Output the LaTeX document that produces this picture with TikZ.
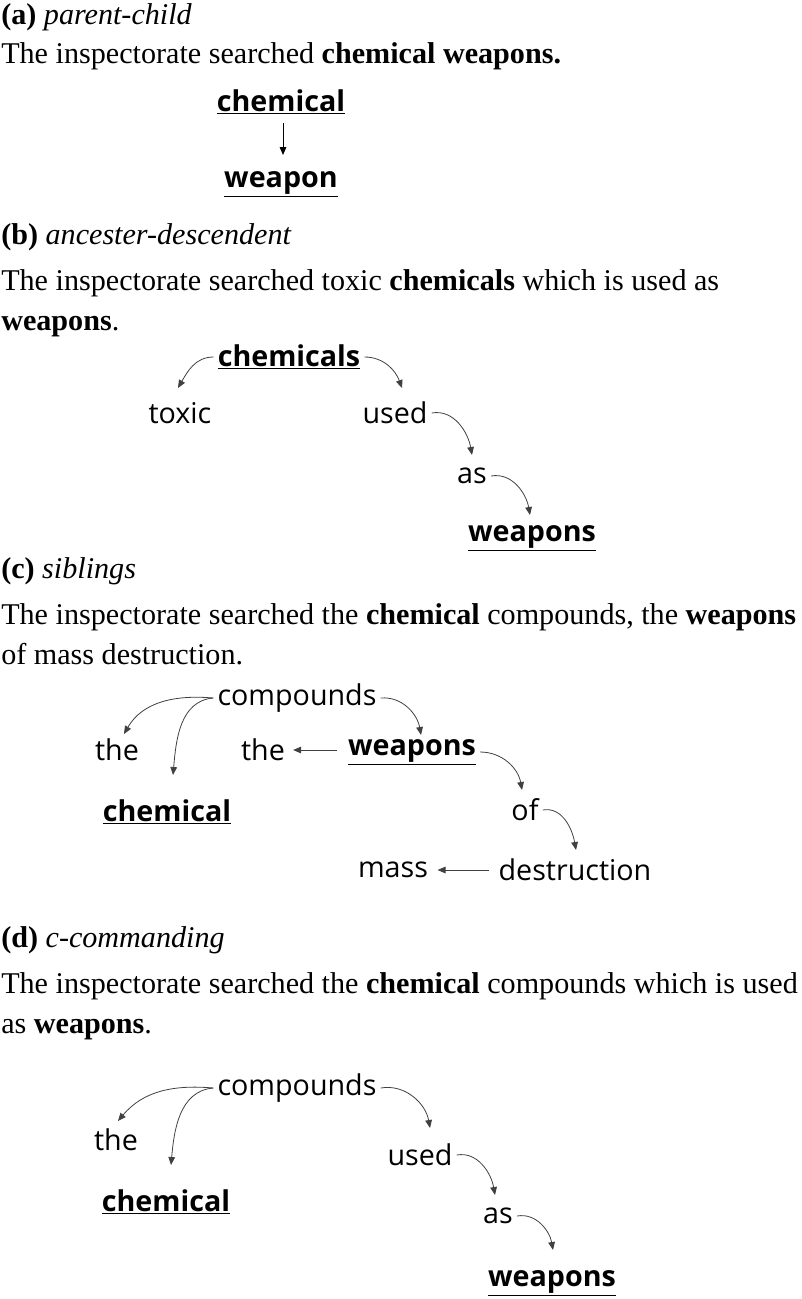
\documentclass[tikz,border=0pt]{standalone}
\usepackage{fontspec}
\setmainfont{Liberation Serif}
\newfontfamily\wordfont{Open Sans}
\usetikzlibrary{arrows.meta}
\begin{document}
\begin{tikzpicture}[x=0.75pt,y=-0.75pt,
  txt/.style={anchor=base west,inner sep=0pt,font=\fontsize{22.6}{26}\selectfont},
  wd/.style={inner sep=3pt,font=\wordfont\fontsize{21.5}{25}\selectfont},
  bw/.style={wd,font=\wordfont\bfseries\fontsize{21.5}{25}\selectfont},
  arr/.style={-{Triangle[length=6pt,width=5pt]},draw=black!75,line width=0.6pt}]
\useasboundingbox (0,0) rectangle (801,1299);
% (a)
\node[txt] (ha) at (1,24) {\textbf{(a)} \textit{parent-child}};
\node[txt] (sa) at (1,63) {The inspectorate searched \textbf{chemical weapons.}};
\node[bw] (a1) at (281,102) {\underline{chemical}};
\node[bw] (a2) at (281,184) {\underline{weapon}};
\draw[arr,draw=black] (283,123) -- (283,155);
% (b)
\node[txt] (hb) at (1,244) {\textbf{(b)} \textit{ancester-descendent}};
\node[txt] (sb1) at (1,290) {The inspectorate searched toxic \textbf{chemicals} which is used as};
\node[txt] (sb2) at (1,330) {\textbf{weapons}.};
\node[bw] (b1) at (289,357) {\underline{chemicals}};
\node[wd] (b2) at (180,413) {toxic};
\node[wd] (b3) at (395,413) {used};
\node[wd] (b4) at (472,476) {as};
\node[bw] (b5) at (532,538) {\underline{weapons}};
\draw[arr] (b1.west) to[out=180,in=60] (178,388);
\draw[arr] (b1.east) to[out=0,in=110] (402,388);
\draw[arr] (b3.east) to[out=10,in=100] (472,455);
\draw[arr] (b4.east) to[out=10,in=100] (530,515);
% (c)
\node[txt] (hc) at (1,578) {\textbf{(c)} \textit{siblings}};
\node[txt] (sc1) at (1,624) {The inspectorate searched the \textbf{chemical} compounds, the \textbf{weapons}};
\node[txt] (sc2) at (1,664) {of mass destruction.};
\node[wd] (c1) at (297,698) {compounds};
\node[wd] (c2) at (117,750) {the};
\node[wd] (c3) at (263,750) {the};
\node[bw] (c4) at (412,752) {\underline{weapons}};
\node[bw] (c5) at (167,812) {\underline{chemical}};
\node[wd] (c6) at (525,810) {of};
\node[wd] (c7) at (393,870) {mass};
\node[wd] (c8) at (575,870) {destruction};
\draw[arr] (c1.west) to[out=175,in=60] (124,734);
\draw[arr] (c1.west) to[out=185,in=85] (173,775);
\draw[arr] (c1.east) to[out=5,in=100] (421,735);
\draw[arr] (c4.east) to[out=0,in=100] (522,790);
\draw[arr] (337,750) -- ([xshift=3pt]c3.east);
\draw[arr] ([xshift=-4pt]c8.west) -- ([xshift=4pt]c7.east);
\draw[arr] (c6.east) to[out=10,in=100] (576,850);
% (d)
\node[txt] (hd) at (1,947) {\textbf{(d)} \textit{c-commanding}};
\node[txt] (sd1) at (1,993) {The inspectorate searched the \textbf{chemical} compounds which is used};
\node[txt] (sd2) at (1,1033) {as \textbf{weapons}.};
\node[wd] (d1) at (297,1088) {compounds};
\node[wd] (d2) at (116,1140) {the};
\node[wd] (d3) at (420,1155) {used};
\node[bw] (d4) at (166,1202) {\underline{chemical}};
\node[wd] (d5) at (498,1216) {as};
\node[bw] (d6) at (552,1283) {\underline{weapons}};
\draw[arr] (d1.west) to[out=175,in=50] (118,1121);
\draw[arr] (d1.west) to[out=185,in=85] (171,1165);
\draw[arr] (d1.east) to[out=10,in=100] (430,1128);
\draw[arr] (d3.east) to[out=10,in=100] (495,1195);
\draw[arr] (d5.east) to[out=10,in=100] (553,1250);
\end{tikzpicture}
\end{document}
